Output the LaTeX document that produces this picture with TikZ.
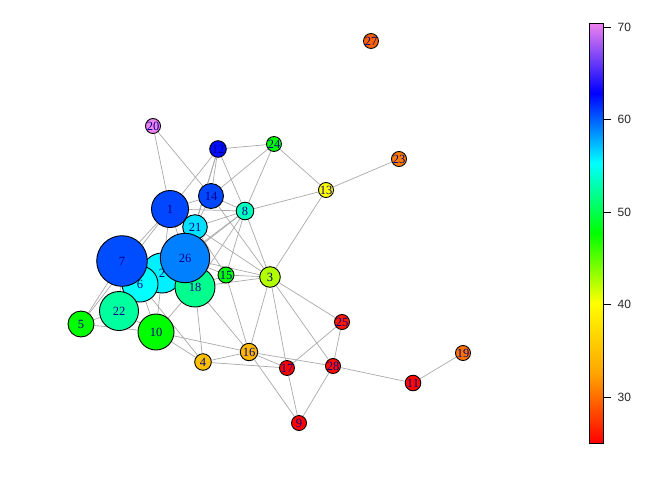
\documentclass[tikz,border=0pt]{standalone}
\usepackage{fontspec}
\setmainfont{Liberation Serif}
\setsansfont{Liberation Sans}
\usepackage{tikz}
\usepackage{xcolor}
\definecolor{rred}{HTML}{FF0000}
\definecolor{rorange}{HTML}{FFA500}
\definecolor{ryellow}{HTML}{FFFF00}
\definecolor{rgreen}{HTML}{00FF00}
\definecolor{rcyan}{HTML}{00FFFF}
\definecolor{rblue}{HTML}{0000FF}
\definecolor{rviolet}{HTML}{EE82EE}
\definecolor{labelblue}{HTML}{00008B}
\definecolor{edgegray}{HTML}{A9A9A9}
\pgfdeclarelayer{bg}
\pgfsetlayers{bg,main}

\begin{document}
\begin{tikzpicture}[x=1pt,y=-1pt,
  vtx/.style={circle,draw=black,line width=0.9pt,inner sep=0pt,text=labelblue,font=\fontsize{12.5}{12.5}\selectfont},
  edge/.style={draw=edgegray,line width=0.7pt}]
  \useasboundingbox (0,0) rectangle (658,480);
  % vertices: name/x/y/radius/colour
  \foreach \n/\x/\y/\r/\c in {
    1/170/209/18.5/rblue!72!rcyan, 2/162/273/20/rcyan!94!rblue, 3/270/277/10.3/rgreen!30!ryellow,
    4/203/362/8.3/ryellow!30!rorange, 5/81/324/13/rgreen, 6/140/284/18/rcyan,
    7/122/261/25.3/rblue!70!rcyan, 8/245/211/8.8/rcyan!75!rgreen, 9/299/423/7.5/rred,
    10/156/332/18/rgreen, 11/413/383/7.8/rred!95!rorange, 12/218/149/8.3/rblue!95!rcyan,
    13/326/190/7/ryellow, 14/211/196/12.5/rblue!72!rcyan, 15/226/275/8/rgreen,
    16/249/352/8.7/ryellow!20!rorange, 17/287/368/7.2/rred, 18/195/287/20/rcyan!55!rgreen,
    19/463/353/6.7/rorange!70!rred, 20/153/126/6.3/rviolet, 21/195/227/12.3/rcyan!88!rblue,
    22/119/311/19.5/rcyan!62!rgreen, 23/399/159/6.7/rorange!75!rred, 24/274/144/7/rgreen,
    25/342/322/7.3/rred!85!rorange, 26/185/258/24.7/rblue!50!rcyan, 27/371/41/6.7/rorange!60!rred,
    28/333/366/7.3/rred!92!rorange}
    \node[vtx,minimum size=2*\r,fill=\c] (v\n) at (\x,\y) {\n};
  % edges, behind the vertices
  \begin{pgfonlayer}{bg}
  \foreach \a/\b in {20/1,20/14,12/24,12/1,12/14,12/21,12/26,12/8,24/13,24/8,24/14,
    13/23,13/8,13/3,14/1,14/8,14/21,14/3,1/8,1/21,1/7,1/26,1/2,21/8,21/26,21/3,21/15,
    26/8,26/3,26/7,26/2,26/18,26/15,8/3,8/15,8/18,8/2,7/2,7/6,7/22,7/5,5/1,5/22,5/10,
    6/2,6/22,6/10,6/4,2/18,2/10,2/22,18/10,18/3,18/15,18/4,18/16,15/3,15/16,10/16,10/4,
    22/10,3/16,3/17,3/28,3/25,16/4,16/17,16/28,16/9,4/17,17/9,17/25,28/25,28/9,28/11,11/19}
    \draw[edge] (v\a) -- (v\b);
  \end{pgfonlayer}
  % colour key
  \foreach \ya/\ca/\cb in {443/rred/rorange,373/rorange/ryellow,303/ryellow/rgreen,
    233/rgreen/rcyan,163/rcyan/rblue,93/rblue/rviolet}
    \shade[bottom color=\ca,top color=\cb] (589,\ya) rectangle (603,\ya-70);
  \draw[line width=0.8pt] (589,23) rectangle (603,443);
  \foreach \v in {30,40,50,60,70}
    \draw[line width=0.8pt] (603,674.5-9.25*\v) -- (611,674.5-9.25*\v)
      node[right=3pt,font=\sffamily\fontsize{12}{12}\selectfont,text=black!85] {\v};
\end{tikzpicture}
\end{document}
